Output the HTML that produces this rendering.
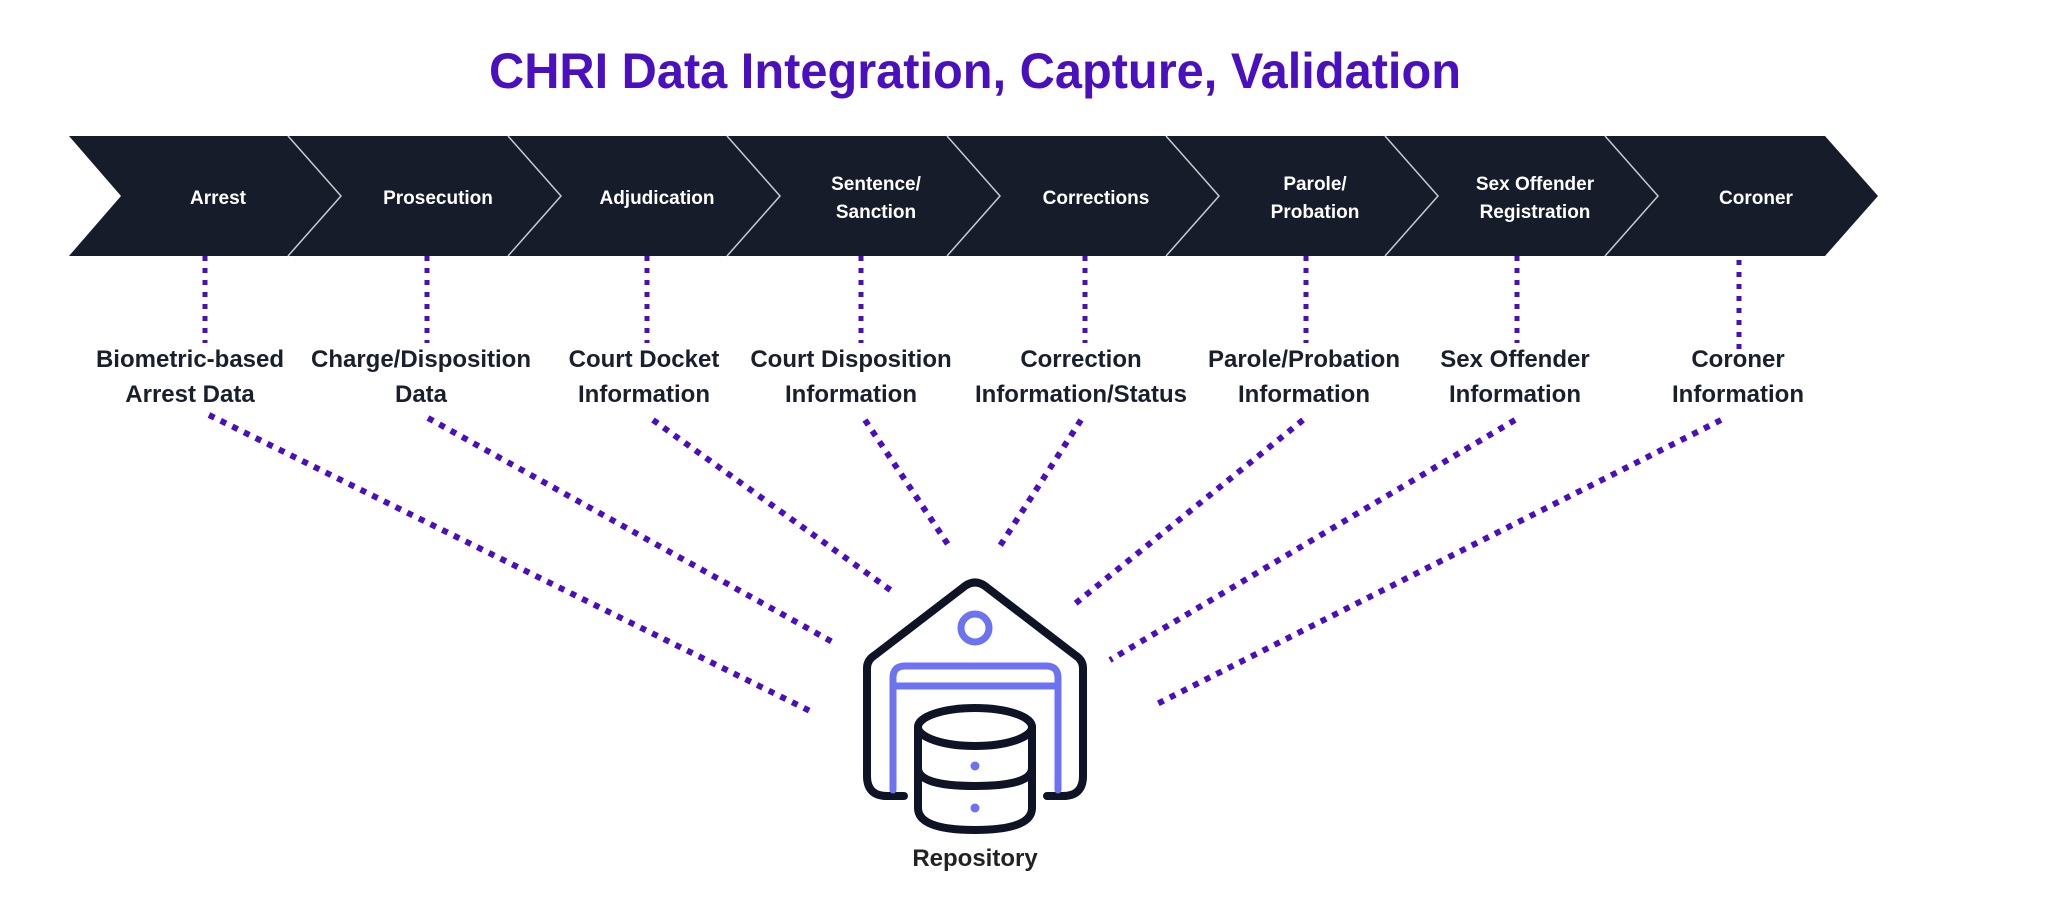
<!DOCTYPE html>
<html><head><meta charset="utf-8"><style>
html,body{margin:0;padding:0;background:#fff;}
svg{display:block;}
.st{font-family:"Liberation Sans",sans-serif;font-size:19px;font-weight:bold;fill:#fff;text-anchor:middle;}
.lb{font-family:"Liberation Sans",sans-serif;font-size:24px;font-weight:bold;fill:#1a1f2e;text-anchor:middle;}
.dv{stroke:#4b0dbf;stroke-width:5;stroke-dasharray:5 7;fill:none;}
.dd{stroke:#4b0dbf;stroke-width:6;stroke-dasharray:6 7;fill:none;}
</style></head><body>
<svg width="2048" height="922" viewBox="0 0 2048 922" xmlns="http://www.w3.org/2000/svg">
<text x="975" y="88" font-family="Liberation Sans,sans-serif" font-size="50" font-weight="bold" fill="#4a0fbf" text-anchor="middle" textLength="972" lengthAdjust="spacingAndGlyphs">CHRI Data Integration, Capture, Validation</text>
<polygon points="69,136 1825,136 1878,196 1825,256 69,256 121,196" fill="#171c2b"/>
<g stroke="#c8cbd2" stroke-width="1.5" fill="none">
<polyline points="288,136 341,196 288,256"/>
<polyline points="508,136 561,196 508,256"/>
<polyline points="727,136 780,196 727,256"/>
<polyline points="947,136 1000,196 947,256"/>
<polyline points="1166,136 1219,196 1166,256"/>
<polyline points="1385,136 1438,196 1385,256"/>
<polyline points="1605,136 1658,196 1605,256"/>
</g>
<text class="st" x="218" y="204">Arrest</text>
<text class="st" x="438" y="204">Prosecution</text>
<text class="st" x="657" y="204">Adjudication</text>
<text class="st" x="876" y="190">Sentence/</text>
<text class="st" x="876" y="218">Sanction</text>
<text class="st" x="1096" y="204">Corrections</text>
<text class="st" x="1315" y="190">Parole/</text>
<text class="st" x="1315" y="218">Probation</text>
<text class="st" x="1535" y="190">Sex Offender</text>
<text class="st" x="1535" y="218">Registration</text>
<text class="st" x="1756" y="204">Coroner</text>
<g class="dv">
<line x1="205" y1="256" x2="205" y2="343"/>
<line x1="427" y1="256" x2="427" y2="343"/>
<line x1="647" y1="256" x2="647" y2="343"/>
<line x1="861" y1="256" x2="861" y2="343"/>
<line x1="1085" y1="256" x2="1085" y2="343"/>
<line x1="1306" y1="256" x2="1306" y2="343"/>
<line x1="1517" y1="256" x2="1517" y2="343"/>
<line x1="1739" y1="260" x2="1739" y2="349"/>
</g>
<text class="lb" x="190" y="367">Biometric-based</text><text class="lb" x="190" y="402">Arrest Data</text>
<text class="lb" x="421" y="367">Charge/Disposition</text><text class="lb" x="421" y="402">Data</text>
<text class="lb" x="644" y="367">Court Docket</text><text class="lb" x="644" y="402">Information</text>
<text class="lb" x="851" y="367">Court Disposition</text><text class="lb" x="851" y="402">Information</text>
<text class="lb" x="1081" y="367">Correction</text><text class="lb" x="1081" y="402">Information/Status</text>
<text class="lb" x="1304" y="367">Parole/Probation</text><text class="lb" x="1304" y="402">Information</text>
<text class="lb" x="1515" y="367">Sex Offender</text><text class="lb" x="1515" y="402">Information</text>
<text class="lb" x="1738" y="367">Coroner</text><text class="lb" x="1738" y="402">Information</text>
<g class="dd">
<line x1="209" y1="415" x2="812" y2="712"/>
<line x1="428" y1="418" x2="836" y2="644"/>
<line x1="653" y1="420" x2="896" y2="594"/>
<line x1="865" y1="420" x2="951" y2="549"/>
<line x1="1081" y1="420" x2="998" y2="549"/>
<line x1="1303" y1="420" x2="1071" y2="607"/>
<line x1="1515" y1="420" x2="1110" y2="660"/>
<line x1="1721" y1="420" x2="1155" y2="705"/>
</g>
<g fill="none" stroke-linecap="round" stroke-linejoin="round">
<path d="M904,796 L887,796 Q867,796 867,776 L867,668 Q867,660 875,655 L965,586 Q975,579 985,586 L1075,655 Q1083,660 1083,668 L1083,776 Q1083,796 1063,796 L1047,796" stroke="#0f1326" stroke-width="8"/>
<circle cx="975" cy="628" r="14" stroke="#6c72f0" stroke-width="7"/>
<path d="M893,790 L893,678 Q893,666 905,666 L1046,666 Q1058,666 1058,678 L1058,790 M893,686 L1058,686" stroke="#6c72f0" stroke-width="7"/>
<path d="M918,727 L918,808 Q918,830 975,830 Q1032,830 1032,808 L1032,727" stroke="#0f1326" stroke-width="8" fill="#fff"/>
<ellipse cx="975" cy="727" rx="57" ry="19" stroke="#0f1326" stroke-width="8" fill="#fff"/>
<path d="M918,768 Q918,786 975,786 Q1032,786 1032,768" stroke="#0f1326" stroke-width="8"/>
</g>
<circle cx="975" cy="766" r="4.5" fill="#6c72f0"/>
<circle cx="975" cy="808" r="4.5" fill="#6c72f0"/>
<text x="975" y="866" font-family="Liberation Sans,sans-serif" font-size="24" font-weight="bold" fill="#222" text-anchor="middle">Repository</text>
</svg>
</body></html>
